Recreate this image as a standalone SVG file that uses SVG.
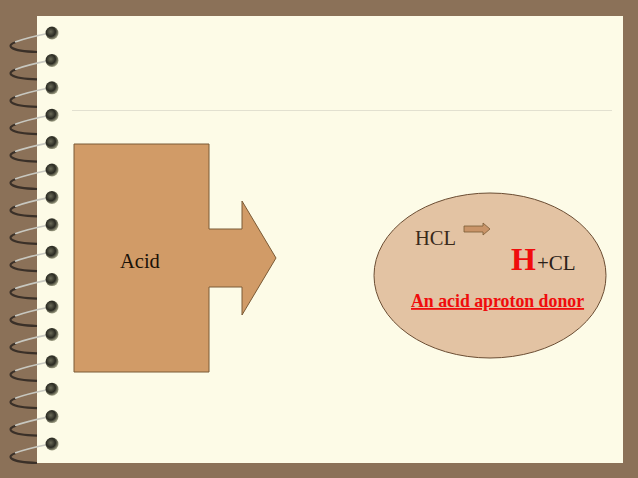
<svg xmlns="http://www.w3.org/2000/svg" width="638" height="478" viewBox="0 0 638 478">
<defs>
<style>
.t{font-family:"Liberation Serif","Times New Roman",serif}
.ring{fill:none;stroke:#3a3028;stroke-width:2.2}
.wire{fill:none;stroke:#c8c8c0;stroke-width:1.6}
</style>
<radialGradient id="hole" cx="40%" cy="40%" r="60%">
<stop offset="0" stop-color="#6a6a58"/>
<stop offset="0.6" stop-color="#2a2a22"/>
<stop offset="1" stop-color="#9a9a80"/>
</radialGradient>
<g id="spiral">
<path class="ring" d="M16 26 C 6 29, 8 35, 37 36"/>
<path class="wire" d="M15 26 C 26 22, 40 19, 50 17"/>
<circle cx="52" cy="17" r="6.5" fill="url(#hole)"/>
</g>
</defs>
<rect width="638" height="478" fill="#8b7158"/>
<rect x="37" y="16" width="586" height="447" fill="#fdfbe7"/>
<g id="rings">
<use href="#spiral" y="16"/>
<use href="#spiral" y="43.4"/>
<use href="#spiral" y="70.8"/>
<use href="#spiral" y="98.2"/>
<use href="#spiral" y="125.6"/>
<use href="#spiral" y="153"/>
<use href="#spiral" y="180.4"/>
<use href="#spiral" y="207.8"/>
<use href="#spiral" y="235.2"/>
<use href="#spiral" y="262.6"/>
<use href="#spiral" y="290"/>
<use href="#spiral" y="317.4"/>
<use href="#spiral" y="344.8"/>
<use href="#spiral" y="372.2"/>
<use href="#spiral" y="399.6"/>
<use href="#spiral" y="427"/>
</g>
<line x1="72" y1="110.5" x2="612" y2="110.5" stroke="#e2e0d0" stroke-width="1"/>
<g id="acid">
<path d="M74 144 H209 V229 H242 V201 L276 258 L242 315 V287 H209 V372 H74 Z" fill="#d19b67" stroke="#7a5a36" stroke-width="1"/>
<text class="t" x="120" y="268" font-size="20.5" fill="#1a1208">Acid</text>
</g>
<g id="reaction">
<ellipse cx="490" cy="275.5" rx="116" ry="82.5" fill="#e3c3a3" stroke="#6b4d33" stroke-width="1"/>
<text class="t" x="415" y="245" font-size="20.5" fill="#3a2a1a">HCL</text>
<path d="M464 226 H483 V223 L490 229 L483 235 V232 H464 Z" fill="#c99468" stroke="#7a5a36" stroke-width="0.8"/>
<text class="t" x="511" y="270" font-size="32" font-weight="bold" fill="#f00c0c">H</text>
<text class="t" x="537" y="270" font-size="21" fill="#2a2018">+CL</text>
<text class="t" x="411" y="307" font-size="17.8" font-weight="bold" fill="#f00c0c" text-decoration="underline">An acid aproton donor</text>
</g>
</svg>
